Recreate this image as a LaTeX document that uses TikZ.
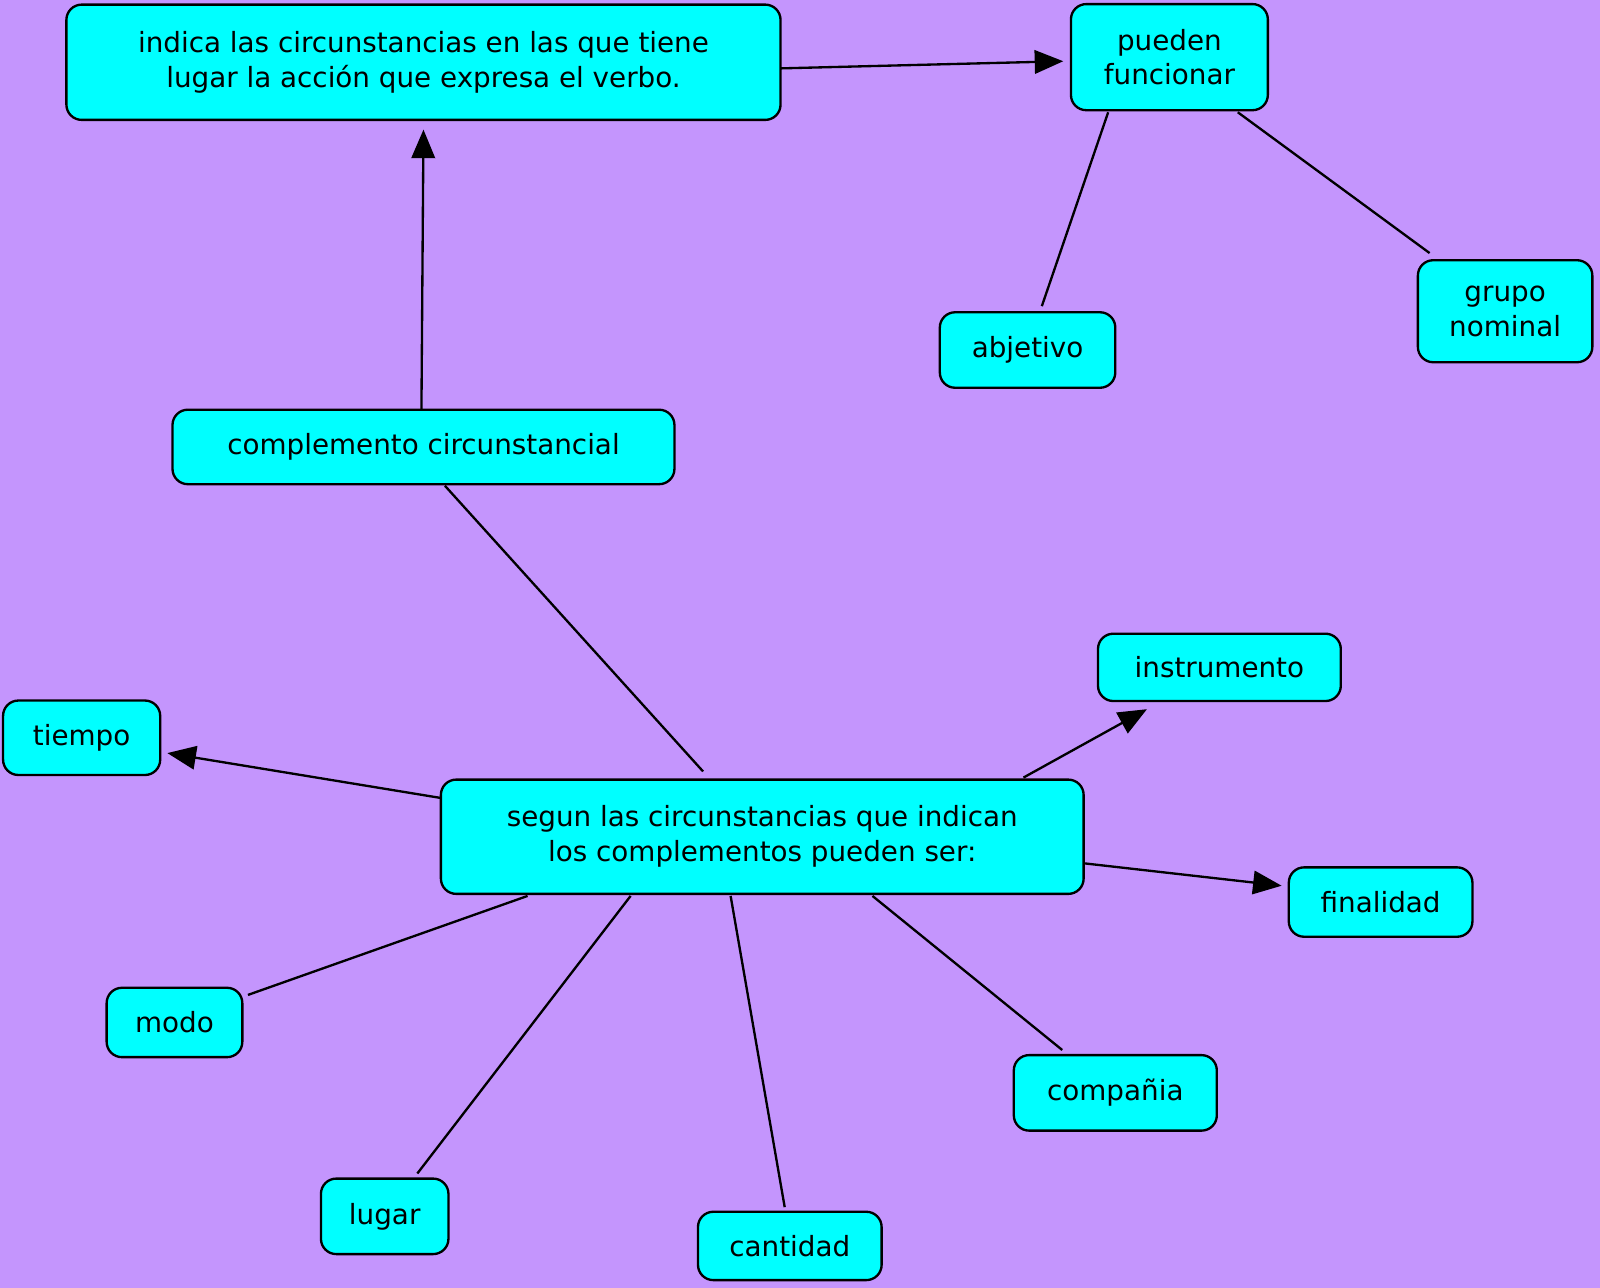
\documentclass[tikz,border=0pt]{standalone}
\usepackage{fontspec}
\setmainfont{DejaVu Sans}
\usetikzlibrary{arrows.meta}
\definecolor{bg}{RGB}{196,149,253}
\definecolor{cy}{RGB}{0,255,255}
\begin{document}
\begin{tikzpicture}[x=0.02cm,y=-0.02cm,
 box/.style={draw=black,fill=cy,rounded corners=0.3cm,line width=1.3pt,align=center,inner sep=0pt,font=\fontsize{15.5}{19.5}\selectfont},
 ln/.style={line width=1.3pt},
 ar/.style={ln,-{Triangle[length=0.56cm,width=0.46cm]}}]
\fill[bg] (0,0) rectangle (1568,1262);
\useasboundingbox (0,0) rectangle (1568,1262);
\node[box,minimum width=14cm,minimum height=2.26cm] (top) at (415,61) {indica las circunstancias en las que tiene\\lugar la acción que expresa el verbo.};
\node[box,minimum width=3.86cm,minimum height=2.08cm] (pue) at (1146,56) {pueden\\funcionar};
\node[box,minimum width=3.44cm,minimum height=1.48cm] (abj) at (1007,343) {abjetivo};
\node[box,minimum width=3.42cm,minimum height=2cm] (gru) at (1475,305) {grupo\\nominal};
\node[box,minimum width=9.84cm,minimum height=1.46cm] (com) at (415,438) {complemento circunstancial};
\node[box,minimum width=4.76cm,minimum height=1.32cm] (ins) at (1195,654) {instrumento};
\node[box,minimum width=3.08cm,minimum height=1.46cm] (tie) at (80,723) {tiempo};
\node[box,minimum width=12.6cm,minimum height=2.24cm] (seg) at (747,820) {segun las circunstancias que indican\\los complementos pueden ser:};
\node[box,minimum width=3.6cm,minimum height=1.36cm] (fin) at (1353,884) {finalidad};
\node[box,minimum width=2.66cm,minimum height=1.36cm] (mod) at (171,1002) {modo};
\node[box,minimum width=3.98cm,minimum height=1.48cm] (cmp) at (1093,1071) {compañia};
\node[box,minimum width=2.5cm,minimum height=1.48cm] (lug) at (377,1192) {lugar};
\node[box,minimum width=3.6cm,minimum height=1.34cm] (can) at (774,1221) {cantidad};
\coordinate (a1) at (765,67); \coordinate (a2) at (1042,60);
\coordinate (b1) at (413,402); \coordinate (b2) at (415,127);
\coordinate (c1) at (1086,110); \coordinate (c2) at (1021,300);
\coordinate (d1) at (1213,110); \coordinate (d2) at (1401,248);
\coordinate (e1) at (689,756); \coordinate (e2) at (436,476);
\coordinate (f1) at (432,782); \coordinate (f2) at (164,738);
\coordinate (g1) at (1003,762); \coordinate (g2) at (1124,695);
\coordinate (h1) at (1062,846); \coordinate (h2) at (1256,868);
\coordinate (i1) at (517,878); \coordinate (i2) at (243,975);
\coordinate (j1) at (618,878); \coordinate (j2) at (409,1150);
\coordinate (k1) at (716,878); \coordinate (k2) at (769,1183);
\coordinate (l1) at (855,878); \coordinate (l2) at (1041,1029);
\draw[ar] (a1) -- (a2);
\draw[ar] (b1) -- (b2);
\draw[ln] (c1) -- (c2);
\draw[ln] (d1) -- (d2);
\draw[ln] (e1) -- (e2);
\draw[ar] (f1) -- (f2);
\draw[ar] (g1) -- (g2);
\draw[ar] (h1) -- (h2);
\draw[ln] (i1) -- (i2);
\draw[ln] (j1) -- (j2);
\draw[ln] (k1) -- (k2);
\draw[ln] (l1) -- (l2);
\end{tikzpicture}
\end{document}
